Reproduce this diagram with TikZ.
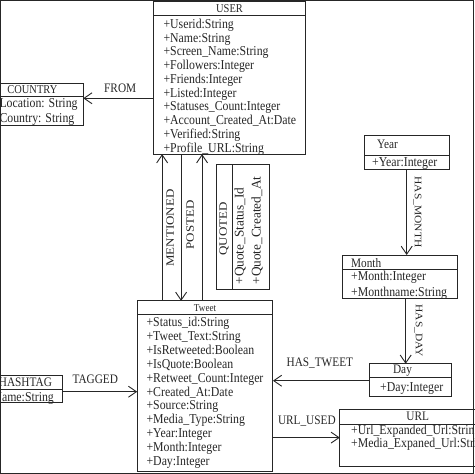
\documentclass[tikz,border=0pt]{standalone}
\usepackage{fontspec}
\setmainfont{Liberation Serif}
\usetikzlibrary{arrows.meta,calc}
\begin{document}
\begin{tikzpicture}[x=1pt,y=-1pt,
  every path/.style={line width=0.9pt,draw=black!85},
  cls/.style={draw=black!85,line width=0.9pt,anchor=north west,inner sep=0pt,outer sep=0pt,minimum width=#1},
  ttl/.style={font=\fontsize{13}{13}\selectfont,xscale=.87,inner sep=0pt,text=black!85},
  body/.style={font=\fontsize{13.6}{#1}\selectfont,xscale=.87,align=left,anchor=north west,inner sep=0pt,text=black!85},
  lbl/.style={font=\fontsize{13}{13}\selectfont,xscale=.87,inner sep=0pt,text=black!85},
  arr/.style={-{Straight Barb[length=8pt,width=11pt,line width=0.9pt]}}]
\useasboundingbox (0,0) rectangle (474,474);

% ---- class boxes
\node[cls=153pt,minimum height=153pt] (user) at (153,1) {};
\node[cls=97pt,minimum height=42pt] (country) at (-14,83) {};
\node[cls=80pt,minimum height=27pt] (hashtag) at (-18,376) {};
\node[cls=136pt,minimum height=171pt] (tweet) at (137,301) {};
\node[cls=85pt,minimum height=34pt] (year) at (365,135) {};
\node[cls=115pt,minimum height=44pt] (month) at (343,255) {};
\node[cls=82pt,minimum height=33pt] (day) at (370,364) {};
\node[cls=156pt,minimum height=57pt] (url) at (340,410) {};
\node[cls=54pt,minimum height=126pt] (quoted) at (216,164) {};

% ---- dividers
\draw ([yshift=-14pt]user.north west) -- ([yshift=-14pt]user.north east);
\draw ([yshift=-13pt]country.north west) -- ([yshift=-13pt]country.north east);
\draw ([yshift=-14pt]hashtag.north west) -- ([yshift=-14pt]hashtag.north east);
\draw ([yshift=-14pt]tweet.north west) -- ([yshift=-14pt]tweet.north east);
\draw ([yshift=-20pt]year.north west) -- ([yshift=-20pt]year.north east);
\draw ([yshift=-15pt]month.north west) -- ([yshift=-15pt]month.north east);
\draw ([yshift=-14pt]day.north west) -- ([yshift=-14pt]day.north east);
\draw ([yshift=-15pt]url.north west) -- ([yshift=-15pt]url.north east);
\draw ([xshift=16pt]quoted.north west) -- ([xshift=16pt]quoted.south west);

% ---- titles
\node[ttl,font=\fontsize{12}{12}\selectfont] (userT) at (229.5,8) {USER};
\node[ttl,font=\fontsize{12}{12}\selectfont] (countryT) at (32,89.5) {COUNTRY};
\node[ttl] (hashtagT) at (25,383) {HASHTAG};
\node[ttl,font=\fontsize{10.5}{10.5}\selectfont] (tweetT) at (205,308) {Tweet};
\node[ttl,anchor=west] (yearT) at (377,144) {Year};
\node[ttl,anchor=west] (monthT) at (351,263) {Month};
\node[ttl,anchor=west] (dayT) at (393,371) {Day};
\node[ttl] (urlT) at (418,417) {URL};

% ---- attributes
\node[body=13.8] (userB) at (163,18) {+Userid:String\\+Name:String\\+Screen\_Name:String\\+Followers:Integer\\+Friends:Integer\\+Listed:Integer\\+Statuses\_Count:Integer\\+Account\_Created\_At:Date\\+Verified:String\\+Profile\_URL:String};
\node[body=15] (countryB) at (-8,98) {+Location: String\\+Country: String};
\node[body=13.8] (hashtagB) at (-14,392) {+Name:String};
\node[body=13.9] (tweetB) at (146,317) {+Status\_id:String\\+Tweet\_Text:String\\+IsRetweeted:Boolean\\+IsQuote:Boolean\\+Retweet\_Count:Integer\\+Created\_At:Date\\+Source:String\\+Media\_Type:String\\+Year:Integer\\+Month:Integer\\+Day:Integer};
\node[body=13.8] (yearB) at (372,157) {+Year:Integer};
\node[body=16] (monthB) at (351,271) {+Month:Integer\\+Monthname:String};
\node[body=13.8] (dayB) at (380,382) {+Day:Integer};
\node[body=10.5] (urlB) at (351,425) {+Url\_Expanded\_Url:String\\+Media\_Expaned\_Url:String};
\node[lbl,rotate=90] (quotedT) at (224,229) {QUOTED};
\node[font=\fontsize{13.3}{17}\selectfont,align=left,inner sep=0pt,text=black!85,rotate=90,anchor=north west] (quotedB) at (234,285) {+Quote\_Status\_Id\\+Quote\_Created\_At};

% ---- connectors
\draw[arr] ([yshift=-97pt]user.north west) -- ([yshift=-97pt]user.north west -| country.east);
\draw[arr] ([xshift=25pt]tweet.north west) -- ([xshift=25pt]tweet.north west |- user.south);
\draw[arr] ([xshift=44pt]tweet.north west |- user.south) -- ([xshift=44pt]tweet.north west);
\draw[arr] ([xshift=65pt]tweet.north west) -- ([xshift=65pt]tweet.north west |- user.south);
\draw[arr] ([yshift=-16pt]hashtag.north east) -- ([yshift=-16pt]hashtag.north east -| tweet.west);
\draw[arr] ([xshift=42pt]year.south west) -- ([xshift=42pt]year.south west |- month.north);
\draw[arr] ([xshift=63pt]month.south west) -- ([xshift=63pt]month.south west |- day.north);
\draw[arr] ([yshift=-17pt]day.north west) -- ([yshift=-17pt]day.north west -| tweet.east);
\draw[arr] ([yshift=-28pt]url.north west -| tweet.east) -- ([yshift=-28pt]url.north west);

% ---- connector labels
\node[lbl] (fromL) at (120,88) {FROM};
\node[lbl,rotate=90] (mentionedL) at (170,228) {MENTIONED};
\node[lbl,rotate=90] (postedL) at (190,225) {POSTED};
\node[lbl] (taggedL) at (95,380) {TAGGED};
\node[lbl,rotate=-90,font=\fontsize{11.5}{11.5}\selectfont] (hasmonthL) at (418,212) {HAS\_MONTH};
\node[lbl,rotate=-90,font=\fontsize{11.5}{11.5}\selectfont] (hasdayL) at (419,331) {HAS\_DAY};
\node[lbl] (hastweetL) at (320,363) {HAS\_TWEET};
\node[lbl] (urlusedL) at (307,421) {URL\_USED};
\end{tikzpicture}
\end{document}
